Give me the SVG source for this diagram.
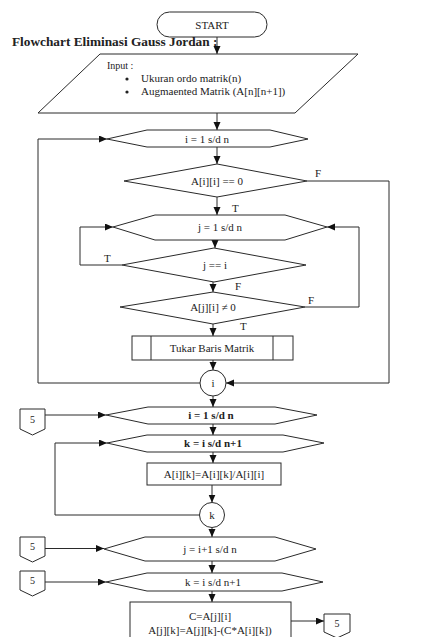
<svg xmlns="http://www.w3.org/2000/svg" width="425" height="637" viewBox="0 0 425 637">
<style>
.s{fill:#fff;stroke:#2a2a2a;stroke-width:1}
.t{font-family:"Liberation Serif","Times New Roman",serif;font-size:11px;fill:#222;text-anchor:middle}
.l{font-family:"Liberation Serif","Times New Roman",serif;font-size:11px;fill:#222}
.b{font-weight:bold}
.c{fill:none;stroke:#2a2a2a;stroke-width:1}
</style>
<defs>
<marker id="ar" markerUnits="userSpaceOnUse" markerWidth="9" markerHeight="8" refX="8" refY="3.5" orient="auto">
<path d="M0,0 L8,3.5 L0,7 z" fill="#111"/>
</marker>
</defs>
<rect width="425" height="637" fill="#fff"/>
<g id="connectors">
<path class="c" d="M217,37 V54" marker-end="url(#ar)"/>
<path class="c" d="M217,113 V130" marker-end="url(#ar)"/>
<path class="c" d="M217,147 V164" marker-end="url(#ar)"/>
<path class="c" d="M217,197 V215" marker-end="url(#ar)"/>
<path class="c" d="M215,240 V248" marker-end="url(#ar)"/>
<path class="c" d="M213,282 V292" marker-end="url(#ar)"/>
<path class="c" d="M213,324 V336" marker-end="url(#ar)"/>
<path class="c" d="M213,360 V370" marker-end="url(#ar)"/>
<path class="c" d="M213,396 V407" marker-end="url(#ar)"/>
<path class="c" d="M213,424 V435" marker-end="url(#ar)"/>
<path class="c" d="M213,452 V463" marker-end="url(#ar)"/>
<path class="c" d="M212,485 V502.5" marker-end="url(#ar)"/>
<path class="c" d="M212,527.5 V537" marker-end="url(#ar)"/>
<path class="c" d="M212,561 V573" marker-end="url(#ar)"/>
<path class="c" d="M212,591 V602" marker-end="url(#ar)"/>
<path class="c" d="M291,621 H324" marker-end="url(#ar)"/>
<path class="c" d="M200,383 H38 V139 H107" marker-end="url(#ar)"/>
<path class="c" d="M307,181 H389 V383 H226" marker-end="url(#ar)"/>
<path class="c" d="M122,265 H80 V227 H113" marker-end="url(#ar)"/>
<path class="c" d="M305,307 H359 V227 H327" marker-end="url(#ar)"/>
<path class="c" d="M45,415 H106" marker-end="url(#ar)"/>
<path class="c" d="M199.5,515 H55 V443 H107" marker-end="url(#ar)"/>
<path class="c" d="M45,548.5 H104" marker-end="url(#ar)"/>
<path class="c" d="M45,582 H106" marker-end="url(#ar)"/>
<text class="l" x="315" y="177">F</text>
<text class="l" x="232" y="212">T</text>
<text class="l" x="104" y="262">T</text>
<text class="l" x="235" y="290">F</text>
<text class="l" x="308" y="304">F</text>
<text class="l" x="240" y="330">T</text>
</g>
<g id="start">
<rect class="s" x="157" y="12" width="110" height="25" rx="12.5"/>
<text class="t" x="212" y="28.5">START</text>
</g>
<g id="title">
<text class="l b" x="12" y="46" style="font-size:13.3px">Flowchart Eliminasi Gauss Jordan :</text>
</g>
<g id="input">
<polygon class="s" points="100,54 358,54 295,113 38,113"/>
<text class="l" x="107" y="69" style="font-size:10px">Input :</text>
<circle cx="127" cy="79" r="1.6" fill="#222"/>
<text class="l" x="141" y="82">Ukuran ordo matrik(n)</text>
<circle cx="127" cy="92" r="1.6" fill="#222"/>
<text class="l" x="141" y="95">Augmaented Matrik (A[n][n+1])</text>
</g>
<g id="loop-i1">
<polygon class="s" points="107,139 147,130 270,130 308,139 270,147 147,147"/>
<text class="t" x="207" y="142.5">i = 1 s/d n</text>
</g>
<g id="dec-aii">
<polygon class="s" points="217,164 307,181 217,197 124,181"/>
<text class="t" x="217" y="185">A[i][i] == 0</text>
</g>
<g id="loop-j1">
<polygon class="s" points="113,227 155,215 285,215 327,227 285,240 155,240"/>
<text class="t" x="220" y="231">j = 1 s/d n</text>
</g>
<g id="dec-jeqi">
<polygon class="s" points="214,248 306,265 214,282 122,265"/>
<text class="t" x="215" y="269">j == i</text>
</g>
<g id="dec-aji">
<polygon class="s" points="213,292 305,307 213,324 120,307"/>
<text class="t" x="213" y="311">A[j][i] ≠ 0</text>
</g>
<g id="tukar">
<rect class="s" x="132" y="336" width="161" height="24"/>
<line class="c" x1="151" y1="336" x2="151" y2="360"/>
<line class="c" x1="273" y1="336" x2="273" y2="360"/>
<text class="t" x="212" y="352">Tukar Baris Matrik</text>
</g>
<g id="conn-i">
<circle class="s" cx="213" cy="383" r="13"/>
<text class="t" x="213" y="387">i</text>
</g>
<g id="loop-i2">
<polygon class="s" points="106,415 148,407 275,407 317,415 275,424 148,424"/>
<text class="t b" x="211" y="419">i = 1 s/d n</text>
</g>
<g id="off5-a">
<polygon class="s" points="20,409 45,409 45,429 32.5,435 20,429"/>
<text class="t" x="32.5" y="423" style="font-size:10px">5</text>
</g>
<g id="loop-k1">
<polygon class="s" points="107,443 147,435 283,435 324,443 283,452 147,452"/>
<text class="t b" x="213" y="447">k = i s/d n+1</text>
</g>
<g id="proc-div">
<rect class="s" x="147" y="463" width="134" height="22"/>
<text class="t" x="214" y="478">A[i][k]=A[i][k]/A[i][i]</text>
</g>
<g id="conn-k">
<circle class="s" cx="212" cy="515" r="12.5"/>
<text class="t" x="212" y="519">k</text>
</g>
<g id="loop-j2">
<polygon class="s" points="104,549 145,537 275,537 316,549 275,561 145,561"/>
<text class="t" x="210" y="553">j = i+1 s/d n</text>
</g>
<g id="off5-b">
<polygon class="s" points="20,537 45,537 45,556 32.5,562 20,556"/>
<text class="t" x="32.5" y="550" style="font-size:10px">5</text>
</g>
<g id="loop-k2">
<polygon class="s" points="106,582 147,573 282,573 323,582 282,591 147,591"/>
<text class="t" x="213" y="586">k = i s/d n+1</text>
</g>
<g id="off5-c">
<polygon class="s" points="20,571 45,571 45,590 32.5,596 20,590"/>
<text class="t" x="32.5" y="584" style="font-size:10px">5</text>
</g>
<g id="proc-elim">
<rect class="s" x="130" y="602" width="161" height="50"/>
<text class="t" x="210" y="620">C=A[j][i]</text>
<text class="t" x="210" y="634">A[j][k]=A[j][k]-(C*A[i][k])</text>
</g>
<g id="off5-d">
<polygon class="s" points="324,614 350,614 350,632 337,638 324,632"/>
<text class="t" x="337" y="627" style="font-size:10px">5</text>
</g>
</svg>
